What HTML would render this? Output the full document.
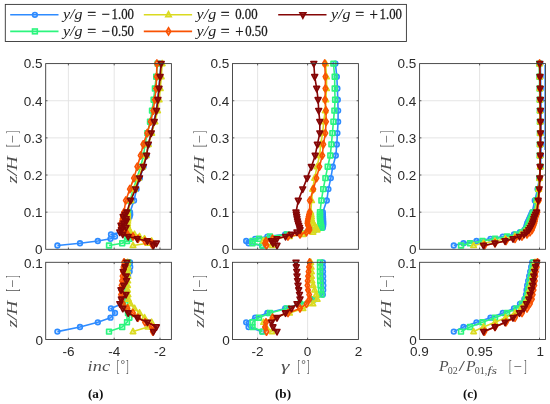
<!DOCTYPE html>
<html lang="en"><head><meta charset="utf-8"><title>Profiles</title>
<style>html,body{margin:0;padding:0;background:#fff;}svg{display:block;}.tk{font-family:"Liberation Sans",sans-serif;font-size:13.5px;fill:#2a2a2a;}.mi{font-family:"Liberation Serif",serif;font-style:italic;fill:#505050;}.mr{font-family:"Liberation Serif",serif;fill:#505050;}.lg{fill:#1a1a1a;stroke:#1a1a1a;stroke-width:0;}.mr.lg{stroke-width:0.3px;}.cap{font-family:"Liberation Serif","DejaVu Serif",serif;font-weight:bold;font-size:13.2px;fill:#111;}</style></head><body>
<svg width="550" height="404" viewBox="0 0 550 404">
<rect width="550" height="404" fill="#fff"/>
<defs>
<clipPath id="cta"><rect x="45.7" y="63.6" width="125.7" height="185.7"/></clipPath>
<clipPath id="cla"><rect x="45.7" y="262.3" width="125.7" height="77.2"/></clipPath>
<clipPath id="ctb"><rect x="232.5" y="63.6" width="125.9" height="185.7"/></clipPath>
<clipPath id="clb"><rect x="232.5" y="262.3" width="125.9" height="77.2"/></clipPath>
<clipPath id="ctc"><rect x="419.6" y="63.6" width="125.9" height="185.7"/></clipPath>
<clipPath id="clc"><rect x="419.6" y="262.3" width="125.9" height="77.2"/></clipPath>
</defs>
<path d="M68.4 63.6V249.3M68.4 262.3V339.5M114.2 63.6V249.3M114.2 262.3V339.5M160 63.6V249.3M160 262.3V339.5M45.7 212.16H171.4M45.7 175.02H171.4M45.7 137.88H171.4M45.7 100.74H171.4" stroke="#e2e2e2" stroke-width="0.9" fill="none"/>
<path d="M257.6 63.6V249.3M257.6 262.3V339.5M307.6 63.6V249.3M307.6 262.3V339.5M232.5 212.16H358.4M232.5 175.02H358.4M232.5 137.88H358.4M232.5 100.74H358.4" stroke="#e2e2e2" stroke-width="0.9" fill="none"/>
<path d="M479.6 63.6V249.3M479.6 262.3V339.5M539.5 63.6V249.3M539.5 262.3V339.5M419.6 212.16H545.5M419.6 175.02H545.5M419.6 137.88H545.5M419.6 100.74H545.5" stroke="#e2e2e2" stroke-width="0.9" fill="none"/>
<g fill="none" stroke-linejoin="round">
<g stroke="#2e8bff">
<path clip-path="url(#cta)" d="M161 63.6L159.9 76.7L158.8 88.5L157.7 99.7L156.3 110.6L154 121.7L151.2 133.1L148.3 144.4L146.6 155.5L143.5 166.7L139.9 178.1L136.6 189.1L134 200.5L130 212.21L130.2 214.42L129.6 216.63L128 218.85L126.6 221.06L125.8 223.27L125.4 225.49L124.8 227.7L124 229.91L122 232.13L111 234.34L115 236.55L110.5 238.81L97.8 241.03L80 243.29L57.4 245.5" stroke-width="1.6"/>
<g stroke-width="1.6" fill="#2e8bff" fill-opacity="0.18"><circle cx="161" cy="63.6" r="2.37"/><circle cx="159.9" cy="76.7" r="2.37"/><circle cx="158.8" cy="88.5" r="2.37"/><circle cx="157.7" cy="99.7" r="2.37"/><circle cx="156.3" cy="110.6" r="2.37"/><circle cx="154" cy="121.7" r="2.37"/><circle cx="151.2" cy="133.1" r="2.37"/><circle cx="148.3" cy="144.4" r="2.37"/><circle cx="146.6" cy="155.5" r="2.37"/><circle cx="143.5" cy="166.7" r="2.37"/><circle cx="139.9" cy="178.1" r="2.37"/><circle cx="136.6" cy="189.1" r="2.37"/><circle cx="134" cy="200.5" r="2.37"/><circle cx="130" cy="212.21" r="2.37"/><circle cx="130.2" cy="214.42" r="2.37"/><circle cx="129.6" cy="216.63" r="2.37"/><circle cx="128" cy="218.85" r="2.37"/><circle cx="126.6" cy="221.06" r="2.37"/><circle cx="125.8" cy="223.27" r="2.37"/><circle cx="125.4" cy="225.49" r="2.37"/><circle cx="124.8" cy="227.7" r="2.37"/><circle cx="124" cy="229.91" r="2.37"/><circle cx="122" cy="232.13" r="2.37"/><circle cx="111" cy="234.34" r="2.37"/><circle cx="115" cy="236.55" r="2.37"/><circle cx="110.5" cy="238.81" r="2.37"/><circle cx="97.8" cy="241.03" r="2.37"/><circle cx="80" cy="243.29" r="2.37"/><circle cx="57.4" cy="245.5" r="2.37"/></g>
</g>
<g stroke="#2cf57e">
<path clip-path="url(#cta)" d="M157.6 63.6L156.2 76.7L154.9 88.5L153.6 99.7L152 110.6L150 121.7L147.4 133.1L145 144.4L143.6 155.5L140.6 166.7L137 178.1L133.4 189.1L130 200.5L128 212.21L127.5 214.42L127 216.63L126.5 218.85L126 221.06L125.5 223.27L125 225.49L125 227.7L125 229.91L125.5 232.13L126.5 234.34L128 236.55L129.4 238.81L127 241.03L122.2 243.29L109 245.5" stroke-width="1.6"/>
<g stroke-width="1.6" fill="#2cf57e" fill-opacity="0.18"><rect x="155.2" y="61.2" width="4.8" height="4.8"/><rect x="153.8" y="74.3" width="4.8" height="4.8"/><rect x="152.5" y="86.1" width="4.8" height="4.8"/><rect x="151.2" y="97.3" width="4.8" height="4.8"/><rect x="149.6" y="108.2" width="4.8" height="4.8"/><rect x="147.6" y="119.3" width="4.8" height="4.8"/><rect x="145" y="130.7" width="4.8" height="4.8"/><rect x="142.6" y="142" width="4.8" height="4.8"/><rect x="141.2" y="153.1" width="4.8" height="4.8"/><rect x="138.2" y="164.3" width="4.8" height="4.8"/><rect x="134.6" y="175.7" width="4.8" height="4.8"/><rect x="131" y="186.7" width="4.8" height="4.8"/><rect x="127.6" y="198.1" width="4.8" height="4.8"/><rect x="125.6" y="209.81" width="4.8" height="4.8"/><rect x="125.1" y="212.02" width="4.8" height="4.8"/><rect x="124.6" y="214.23" width="4.8" height="4.8"/><rect x="124.1" y="216.45" width="4.8" height="4.8"/><rect x="123.6" y="218.66" width="4.8" height="4.8"/><rect x="123.1" y="220.87" width="4.8" height="4.8"/><rect x="122.6" y="223.09" width="4.8" height="4.8"/><rect x="122.6" y="225.3" width="4.8" height="4.8"/><rect x="122.6" y="227.51" width="4.8" height="4.8"/><rect x="123.1" y="229.73" width="4.8" height="4.8"/><rect x="124.1" y="231.94" width="4.8" height="4.8"/><rect x="125.6" y="234.15" width="4.8" height="4.8"/><rect x="127" y="236.41" width="4.8" height="4.8"/><rect x="124.6" y="238.63" width="4.8" height="4.8"/><rect x="119.8" y="240.89" width="4.8" height="4.8"/><rect x="106.6" y="243.1" width="4.8" height="4.8"/></g>
</g>
<g stroke="#dada20">
<path clip-path="url(#cta)" d="M162.2 63.6L161.3 76.7L160.3 88.5L159.2 99.7L157.6 110.6L155 121.7L151.8 133.1L148.4 144.4L146.2 155.5L142.6 166.7L138.6 178.1L134.6 189.1L131 200.5L127.6 212.21L127.8 214.42L127.8 216.63L128 218.85L127.8 221.06L127.6 223.27L127.6 225.49L128 227.7L128.4 229.91L130.5 232.13L134.5 234.34L139.5 236.55L144.5 238.81L151.6 241.03L148 243.29L133 245.5" stroke-width="1.6"/>
<g stroke-width="1.6" fill="#dada20" fill-opacity="0.45"><path d="M162.2 60.43L164.96 65.59L159.44 65.59Z"/><path d="M161.3 73.53L164.06 78.69L158.54 78.69Z"/><path d="M160.3 85.33L163.06 90.49L157.54 90.49Z"/><path d="M159.2 96.53L161.96 101.69L156.44 101.69Z"/><path d="M157.6 107.43L160.36 112.59L154.84 112.59Z"/><path d="M155 118.53L157.76 123.69L152.24 123.69Z"/><path d="M151.8 129.93L154.56 135.09L149.04 135.09Z"/><path d="M148.4 141.23L151.16 146.39L145.64 146.39Z"/><path d="M146.2 152.33L148.96 157.49L143.44 157.49Z"/><path d="M142.6 163.53L145.36 168.69L139.84 168.69Z"/><path d="M138.6 174.93L141.36 180.09L135.84 180.09Z"/><path d="M134.6 185.93L137.36 191.09L131.84 191.09Z"/><path d="M131 197.33L133.76 202.49L128.24 202.49Z"/><path d="M127.6 209.03L130.36 214.2L124.84 214.2Z"/><path d="M127.8 211.25L130.56 216.41L125.04 216.41Z"/><path d="M127.8 213.46L130.56 218.62L125.04 218.62Z"/><path d="M128 215.67L130.76 220.83L125.24 220.83Z"/><path d="M127.8 217.89L130.56 223.05L125.04 223.05Z"/><path d="M127.6 220.1L130.36 225.26L124.84 225.26Z"/><path d="M127.6 222.31L130.36 227.47L124.84 227.47Z"/><path d="M128 224.53L130.76 229.69L125.24 229.69Z"/><path d="M128.4 226.74L131.16 231.9L125.64 231.9Z"/><path d="M130.5 228.95L133.26 234.11L127.74 234.11Z"/><path d="M134.5 231.16L137.26 236.33L131.74 236.33Z"/><path d="M139.5 233.38L142.26 238.54L136.74 238.54Z"/><path d="M144.5 235.64L147.26 240.8L141.74 240.8Z"/><path d="M151.6 237.85L154.36 243.01L148.84 243.01Z"/><path d="M148 240.11L150.76 245.27L145.24 245.27Z"/><path d="M133 242.33L135.76 247.49L130.24 247.49Z"/></g>
</g>
<g stroke="#f95203">
<path clip-path="url(#cta)" d="M156.9 63.6L156.6 76.7L156 88.5L154.8 99.7L153.2 110.6L150.6 121.7L147.2 133.1L143.2 144.4L140.6 155.5L137.2 166.7L133.9 178.1L129.8 189.1L125.8 200.5L124 212.21L123.5 214.42L123 216.63L122.5 218.85L122 221.06L121.5 223.27L121 225.49L121 227.7L121.5 229.91L123 232.13L127.5 234.34L133 236.55L138 238.81L145 241.03L151.6 243.29L152.8 245.5" stroke-width="1.6"/>
<g stroke-width="1.6" fill="#f95203" fill-opacity="0.4"><path d="M156.9 59.94L159.12 63.6L156.9 67.26L154.68 63.6Z"/><path d="M156.6 73.04L158.82 76.7L156.6 80.36L154.38 76.7Z"/><path d="M156 84.84L158.22 88.5L156 92.16L153.78 88.5Z"/><path d="M154.8 96.04L157.02 99.7L154.8 103.36L152.58 99.7Z"/><path d="M153.2 106.94L155.42 110.6L153.2 114.26L150.98 110.6Z"/><path d="M150.6 118.04L152.82 121.7L150.6 125.36L148.38 121.7Z"/><path d="M147.2 129.44L149.42 133.1L147.2 136.76L144.98 133.1Z"/><path d="M143.2 140.74L145.42 144.4L143.2 148.06L140.98 144.4Z"/><path d="M140.6 151.84L142.82 155.5L140.6 159.16L138.38 155.5Z"/><path d="M137.2 163.04L139.42 166.7L137.2 170.36L134.98 166.7Z"/><path d="M133.9 174.44L136.12 178.1L133.9 181.76L131.68 178.1Z"/><path d="M129.8 185.44L132.02 189.1L129.8 192.76L127.58 189.1Z"/><path d="M125.8 196.84L128.02 200.5L125.8 204.16L123.58 200.5Z"/><path d="M124 208.55L126.22 212.21L124 215.87L121.78 212.21Z"/><path d="M123.5 210.76L125.72 214.42L123.5 218.08L121.28 214.42Z"/><path d="M123 212.97L125.22 216.63L123 220.29L120.78 216.63Z"/><path d="M122.5 215.19L124.72 218.85L122.5 222.51L120.28 218.85Z"/><path d="M122 217.4L124.22 221.06L122 224.72L119.78 221.06Z"/><path d="M121.5 219.61L123.72 223.27L121.5 226.93L119.28 223.27Z"/><path d="M121 221.83L123.22 225.49L121 229.15L118.78 225.49Z"/><path d="M121 224.04L123.22 227.7L121 231.36L118.78 227.7Z"/><path d="M121.5 226.25L123.72 229.91L121.5 233.57L119.28 229.91Z"/><path d="M123 228.47L125.22 232.13L123 235.79L120.78 232.13Z"/><path d="M127.5 230.68L129.72 234.34L127.5 238L125.28 234.34Z"/><path d="M133 232.89L135.22 236.55L133 240.21L130.78 236.55Z"/><path d="M138 235.15L140.22 238.81L138 242.47L135.78 238.81Z"/><path d="M145 237.37L147.22 241.03L145 244.69L142.78 241.03Z"/><path d="M151.6 239.63L153.82 243.29L151.6 246.95L149.38 243.29Z"/><path d="M152.8 241.84L155.02 245.5L152.8 249.16L150.58 245.5Z"/></g>
</g>
<g stroke="#850606">
<path clip-path="url(#cta)" d="M161.2 63.6L160.1 76.7L159 88.5L157.9 99.7L156.5 110.6L154.2 121.7L151.3 133.1L148.3 144.4L146.6 155.5L143.4 166.7L139.5 178.1L135.6 189.1L130.6 200.5L126.8 212.21L125 214.42L123.2 216.63L126.2 218.85L126.5 221.06L123.8 223.27L121 225.49L126 227.7L121.4 229.91L119.8 232.13L122.8 234.34L128.2 236.55L137.2 238.81L147.4 241.03L156.4 243.29L153.4 245.5" stroke-width="1.6"/>
<g stroke-width="1.6" fill="#850606" fill-opacity="0.7"><path d="M161.2 66.98L164.14 61.48L158.26 61.48Z"/><path d="M160.1 80.08L163.04 74.58L157.16 74.58Z"/><path d="M159 91.88L161.94 86.38L156.06 86.38Z"/><path d="M157.9 103.08L160.84 97.58L154.96 97.58Z"/><path d="M156.5 113.98L159.44 108.48L153.56 108.48Z"/><path d="M154.2 125.08L157.14 119.58L151.26 119.58Z"/><path d="M151.3 136.48L154.24 130.98L148.36 130.98Z"/><path d="M148.3 147.78L151.24 142.28L145.36 142.28Z"/><path d="M146.6 158.88L149.54 153.38L143.66 153.38Z"/><path d="M143.4 170.08L146.34 164.58L140.46 164.58Z"/><path d="M139.5 181.48L142.44 175.98L136.56 175.98Z"/><path d="M135.6 192.48L138.54 186.98L132.66 186.98Z"/><path d="M130.6 203.88L133.54 198.38L127.66 198.38Z"/><path d="M126.8 215.59L129.74 210.09L123.86 210.09Z"/><path d="M125 217.8L127.94 212.3L122.06 212.3Z"/><path d="M123.2 220.02L126.14 214.52L120.26 214.52Z"/><path d="M126.2 222.23L129.14 216.73L123.26 216.73Z"/><path d="M126.5 224.44L129.44 218.94L123.56 218.94Z"/><path d="M123.8 226.65L126.74 221.16L120.86 221.16Z"/><path d="M121 228.87L123.94 223.37L118.06 223.37Z"/><path d="M126 231.08L128.94 225.58L123.06 225.58Z"/><path d="M121.4 233.29L124.34 227.8L118.46 227.8Z"/><path d="M119.8 235.51L122.74 230.01L116.86 230.01Z"/><path d="M122.8 237.72L125.74 232.22L119.86 232.22Z"/><path d="M128.2 239.93L131.14 234.43L125.26 234.43Z"/><path d="M137.2 242.19L140.14 236.7L134.26 236.7Z"/><path d="M147.4 244.41L150.34 238.91L144.46 238.91Z"/><path d="M156.4 246.67L159.34 241.17L153.46 241.17Z"/><path d="M153.4 248.88L156.34 243.38L150.46 243.38Z"/></g>
</g>
</g>
<g fill="none" stroke-linejoin="round">
<g stroke="#2e8bff">
<path clip-path="url(#cla)" d="M134 238.06L130 262.4L130.2 267L129.6 271.6L128 276.2L126.6 280.8L125.8 285.4L125.4 290L124.8 294.6L124 299.2L122 303.8L111 308.4L115 313L110.5 317.7L97.8 322.3L80 327L57.4 331.6" stroke-width="1.6"/>
<g stroke-width="1.6" fill="#2e8bff" fill-opacity="0.18"><circle cx="130" cy="262.4" r="2.37"/><circle cx="130.2" cy="267" r="2.37"/><circle cx="129.6" cy="271.6" r="2.37"/><circle cx="128" cy="276.2" r="2.37"/><circle cx="126.6" cy="280.8" r="2.37"/><circle cx="125.8" cy="285.4" r="2.37"/><circle cx="125.4" cy="290" r="2.37"/><circle cx="124.8" cy="294.6" r="2.37"/><circle cx="124" cy="299.2" r="2.37"/><circle cx="122" cy="303.8" r="2.37"/><circle cx="111" cy="308.4" r="2.37"/><circle cx="115" cy="313" r="2.37"/><circle cx="110.5" cy="317.7" r="2.37"/><circle cx="97.8" cy="322.3" r="2.37"/><circle cx="80" cy="327" r="2.37"/><circle cx="57.4" cy="331.6" r="2.37"/></g>
</g>
<g stroke="#2cf57e">
<path clip-path="url(#cla)" d="M130 238.06L128 262.4L127.5 267L127 271.6L126.5 276.2L126 280.8L125.5 285.4L125 290L125 294.6L125 299.2L125.5 303.8L126.5 308.4L128 313L129.4 317.7L127 322.3L122.2 327L109 331.6" stroke-width="1.6"/>
<g stroke-width="1.6" fill="#2cf57e" fill-opacity="0.18"><rect x="125.6" y="260" width="4.8" height="4.8"/><rect x="125.1" y="264.6" width="4.8" height="4.8"/><rect x="124.6" y="269.2" width="4.8" height="4.8"/><rect x="124.1" y="273.8" width="4.8" height="4.8"/><rect x="123.6" y="278.4" width="4.8" height="4.8"/><rect x="123.1" y="283" width="4.8" height="4.8"/><rect x="122.6" y="287.6" width="4.8" height="4.8"/><rect x="122.6" y="292.2" width="4.8" height="4.8"/><rect x="122.6" y="296.8" width="4.8" height="4.8"/><rect x="123.1" y="301.4" width="4.8" height="4.8"/><rect x="124.1" y="306" width="4.8" height="4.8"/><rect x="125.6" y="310.6" width="4.8" height="4.8"/><rect x="127" y="315.3" width="4.8" height="4.8"/><rect x="124.6" y="319.9" width="4.8" height="4.8"/><rect x="119.8" y="324.6" width="4.8" height="4.8"/><rect x="106.6" y="329.2" width="4.8" height="4.8"/></g>
</g>
<g stroke="#dada20">
<path clip-path="url(#cla)" d="M131 238.06L127.6 262.4L127.8 267L127.8 271.6L128 276.2L127.8 280.8L127.6 285.4L127.6 290L128 294.6L128.4 299.2L130.5 303.8L134.5 308.4L139.5 313L144.5 317.7L151.6 322.3L148 327L133 331.6" stroke-width="1.6"/>
<g stroke-width="1.6" fill="#dada20" fill-opacity="0.45"><path d="M127.6 259.23L130.36 264.39L124.84 264.39Z"/><path d="M127.8 263.83L130.56 268.99L125.04 268.99Z"/><path d="M127.8 268.43L130.56 273.59L125.04 273.59Z"/><path d="M128 273.03L130.76 278.19L125.24 278.19Z"/><path d="M127.8 277.63L130.56 282.79L125.04 282.79Z"/><path d="M127.6 282.23L130.36 287.39L124.84 287.39Z"/><path d="M127.6 286.83L130.36 291.99L124.84 291.99Z"/><path d="M128 291.43L130.76 296.59L125.24 296.59Z"/><path d="M128.4 296.03L131.16 301.19L125.64 301.19Z"/><path d="M130.5 300.63L133.26 305.79L127.74 305.79Z"/><path d="M134.5 305.23L137.26 310.39L131.74 310.39Z"/><path d="M139.5 309.83L142.26 314.99L136.74 314.99Z"/><path d="M144.5 314.53L147.26 319.69L141.74 319.69Z"/><path d="M151.6 319.13L154.36 324.29L148.84 324.29Z"/><path d="M148 323.83L150.76 328.99L145.24 328.99Z"/><path d="M133 328.43L135.76 333.59L130.24 333.59Z"/></g>
</g>
<g stroke="#f95203">
<path clip-path="url(#cla)" d="M125.8 238.06L124 262.4L123.5 267L123 271.6L122.5 276.2L122 280.8L121.5 285.4L121 290L121 294.6L121.5 299.2L123 303.8L127.5 308.4L133 313L138 317.7L145 322.3L151.6 327L152.8 331.6" stroke-width="1.6"/>
<g stroke-width="1.6" fill="#f95203" fill-opacity="0.4"><path d="M124 258.74L126.22 262.4L124 266.06L121.78 262.4Z"/><path d="M123.5 263.34L125.72 267L123.5 270.66L121.28 267Z"/><path d="M123 267.94L125.22 271.6L123 275.26L120.78 271.6Z"/><path d="M122.5 272.54L124.72 276.2L122.5 279.86L120.28 276.2Z"/><path d="M122 277.14L124.22 280.8L122 284.46L119.78 280.8Z"/><path d="M121.5 281.74L123.72 285.4L121.5 289.06L119.28 285.4Z"/><path d="M121 286.34L123.22 290L121 293.66L118.78 290Z"/><path d="M121 290.94L123.22 294.6L121 298.26L118.78 294.6Z"/><path d="M121.5 295.54L123.72 299.2L121.5 302.86L119.28 299.2Z"/><path d="M123 300.14L125.22 303.8L123 307.46L120.78 303.8Z"/><path d="M127.5 304.74L129.72 308.4L127.5 312.06L125.28 308.4Z"/><path d="M133 309.34L135.22 313L133 316.66L130.78 313Z"/><path d="M138 314.04L140.22 317.7L138 321.36L135.78 317.7Z"/><path d="M145 318.64L147.22 322.3L145 325.96L142.78 322.3Z"/><path d="M151.6 323.34L153.82 327L151.6 330.66L149.38 327Z"/><path d="M152.8 327.94L155.02 331.6L152.8 335.26L150.58 331.6Z"/></g>
</g>
<g stroke="#850606">
<path clip-path="url(#cla)" d="M130.6 238.06L126.8 262.4L125 267L123.2 271.6L126.2 276.2L126.5 280.8L123.8 285.4L121 290L126 294.6L121.4 299.2L119.8 303.8L122.8 308.4L128.2 313L137.2 317.7L147.4 322.3L156.4 327L153.4 331.6" stroke-width="1.6"/>
<g stroke-width="1.6" fill="#850606" fill-opacity="0.7"><path d="M126.8 265.78L129.74 260.28L123.86 260.28Z"/><path d="M125 270.38L127.94 264.88L122.06 264.88Z"/><path d="M123.2 274.98L126.14 269.48L120.26 269.48Z"/><path d="M126.2 279.58L129.14 274.08L123.26 274.08Z"/><path d="M126.5 284.18L129.44 278.68L123.56 278.68Z"/><path d="M123.8 288.78L126.74 283.28L120.86 283.28Z"/><path d="M121 293.38L123.94 287.88L118.06 287.88Z"/><path d="M126 297.98L128.94 292.48L123.06 292.48Z"/><path d="M121.4 302.58L124.34 297.08L118.46 297.08Z"/><path d="M119.8 307.18L122.74 301.68L116.86 301.68Z"/><path d="M122.8 311.78L125.74 306.28L119.86 306.28Z"/><path d="M128.2 316.38L131.14 310.88L125.26 310.88Z"/><path d="M137.2 321.08L140.14 315.58L134.26 315.58Z"/><path d="M147.4 325.68L150.34 320.18L144.46 320.18Z"/><path d="M156.4 330.38L159.34 324.88L153.46 324.88Z"/><path d="M153.4 334.98L156.34 329.48L150.46 329.48Z"/></g>
</g>
</g>
<g fill="none" stroke-linejoin="round">
<g stroke="#2e8bff">
<path clip-path="url(#ctb)" d="M335.4 63.6L336.8 76.7L337.4 88.5L337.8 99.7L338.1 110.6L338.1 121.7L337.4 133.1L336.8 144.4L335.8 155.5L332.8 166.7L330.8 178.1L328.4 189.1L326.8 200.5L322.8 212.21L322.9 214.42L323 216.63L323.1 218.85L323.2 221.06L323.3 223.27L323.2 225.49L322.8 227.7L314.5 229.91L300.5 232.13L285.2 234.34L267.4 236.55L255.2 238.81L246.2 241.03L248.6 243.29L262 245.5" stroke-width="1.6"/>
<g stroke-width="1.6" fill="#2e8bff" fill-opacity="0.18"><circle cx="335.4" cy="63.6" r="2.37"/><circle cx="336.8" cy="76.7" r="2.37"/><circle cx="337.4" cy="88.5" r="2.37"/><circle cx="337.8" cy="99.7" r="2.37"/><circle cx="338.1" cy="110.6" r="2.37"/><circle cx="338.1" cy="121.7" r="2.37"/><circle cx="337.4" cy="133.1" r="2.37"/><circle cx="336.8" cy="144.4" r="2.37"/><circle cx="335.8" cy="155.5" r="2.37"/><circle cx="332.8" cy="166.7" r="2.37"/><circle cx="330.8" cy="178.1" r="2.37"/><circle cx="328.4" cy="189.1" r="2.37"/><circle cx="326.8" cy="200.5" r="2.37"/><circle cx="322.8" cy="212.21" r="2.37"/><circle cx="322.9" cy="214.42" r="2.37"/><circle cx="323" cy="216.63" r="2.37"/><circle cx="323.1" cy="218.85" r="2.37"/><circle cx="323.2" cy="221.06" r="2.37"/><circle cx="323.3" cy="223.27" r="2.37"/><circle cx="323.2" cy="225.49" r="2.37"/><circle cx="322.8" cy="227.7" r="2.37"/><circle cx="314.5" cy="229.91" r="2.37"/><circle cx="300.5" cy="232.13" r="2.37"/><circle cx="285.2" cy="234.34" r="2.37"/><circle cx="267.4" cy="236.55" r="2.37"/><circle cx="255.2" cy="238.81" r="2.37"/><circle cx="246.2" cy="241.03" r="2.37"/><circle cx="248.6" cy="243.29" r="2.37"/><circle cx="262" cy="245.5" r="2.37"/></g>
</g>
<g stroke="#2cf57e">
<path clip-path="url(#ctb)" d="M333.4 63.6L334.7 76.7L334.7 88.5L335.1 99.7L334.4 110.6L333.4 121.7L332.4 133.1L331.4 144.4L330.3 155.5L327.7 166.7L325.4 178.1L323.2 189.1L321.4 200.5L320 212.21L320 214.42L320 216.63L320 218.85L320.2 221.06L320.5 223.27L321 225.49L321.5 227.7L313.5 229.91L300 232.13L287 234.34L270 236.55L259 238.81L252.5 241.03L252.5 243.29L262.5 245.5" stroke-width="1.6"/>
<g stroke-width="1.6" fill="#2cf57e" fill-opacity="0.18"><rect x="331" y="61.2" width="4.8" height="4.8"/><rect x="332.3" y="74.3" width="4.8" height="4.8"/><rect x="332.3" y="86.1" width="4.8" height="4.8"/><rect x="332.7" y="97.3" width="4.8" height="4.8"/><rect x="332" y="108.2" width="4.8" height="4.8"/><rect x="331" y="119.3" width="4.8" height="4.8"/><rect x="330" y="130.7" width="4.8" height="4.8"/><rect x="329" y="142" width="4.8" height="4.8"/><rect x="327.9" y="153.1" width="4.8" height="4.8"/><rect x="325.3" y="164.3" width="4.8" height="4.8"/><rect x="323" y="175.7" width="4.8" height="4.8"/><rect x="320.8" y="186.7" width="4.8" height="4.8"/><rect x="319" y="198.1" width="4.8" height="4.8"/><rect x="317.6" y="209.81" width="4.8" height="4.8"/><rect x="317.6" y="212.02" width="4.8" height="4.8"/><rect x="317.6" y="214.23" width="4.8" height="4.8"/><rect x="317.6" y="216.45" width="4.8" height="4.8"/><rect x="317.8" y="218.66" width="4.8" height="4.8"/><rect x="318.1" y="220.87" width="4.8" height="4.8"/><rect x="318.6" y="223.09" width="4.8" height="4.8"/><rect x="319.1" y="225.3" width="4.8" height="4.8"/><rect x="311.1" y="227.51" width="4.8" height="4.8"/><rect x="297.6" y="229.73" width="4.8" height="4.8"/><rect x="284.6" y="231.94" width="4.8" height="4.8"/><rect x="267.6" y="234.15" width="4.8" height="4.8"/><rect x="256.6" y="236.41" width="4.8" height="4.8"/><rect x="250.1" y="238.63" width="4.8" height="4.8"/><rect x="250.1" y="240.89" width="4.8" height="4.8"/><rect x="260.1" y="243.1" width="4.8" height="4.8"/></g>
</g>
<g stroke="#dada20">
<path clip-path="url(#ctb)" d="M325.6 63.6L326.5 76.7L326.5 88.5L325.8 99.7L325.2 110.6L323.8 121.7L322.6 133.1L320.8 144.4L319.6 155.5L317 166.7L314.6 178.1L312.6 189.1L311.6 200.5L310.8 212.21L311.2 214.42L311.5 216.63L311.5 218.85L312 221.06L313.2 223.27L314.6 225.49L316.2 227.7L317.2 229.91L313 232.13L303 234.34L289.5 236.55L273 238.81L263.5 241.03L266 243.29L272 245.5" stroke-width="1.6"/>
<g stroke-width="1.6" fill="#dada20" fill-opacity="0.45"><path d="M325.6 60.43L328.36 65.59L322.84 65.59Z"/><path d="M326.5 73.53L329.26 78.69L323.74 78.69Z"/><path d="M326.5 85.33L329.26 90.49L323.74 90.49Z"/><path d="M325.8 96.53L328.56 101.69L323.04 101.69Z"/><path d="M325.2 107.43L327.96 112.59L322.44 112.59Z"/><path d="M323.8 118.53L326.56 123.69L321.04 123.69Z"/><path d="M322.6 129.93L325.36 135.09L319.84 135.09Z"/><path d="M320.8 141.23L323.56 146.39L318.04 146.39Z"/><path d="M319.6 152.33L322.36 157.49L316.84 157.49Z"/><path d="M317 163.53L319.76 168.69L314.24 168.69Z"/><path d="M314.6 174.93L317.36 180.09L311.84 180.09Z"/><path d="M312.6 185.93L315.36 191.09L309.84 191.09Z"/><path d="M311.6 197.33L314.36 202.49L308.84 202.49Z"/><path d="M310.8 209.03L313.56 214.2L308.04 214.2Z"/><path d="M311.2 211.25L313.96 216.41L308.44 216.41Z"/><path d="M311.5 213.46L314.26 218.62L308.74 218.62Z"/><path d="M311.5 215.67L314.26 220.83L308.74 220.83Z"/><path d="M312 217.89L314.76 223.05L309.24 223.05Z"/><path d="M313.2 220.1L315.96 225.26L310.44 225.26Z"/><path d="M314.6 222.31L317.36 227.47L311.84 227.47Z"/><path d="M316.2 224.53L318.96 229.69L313.44 229.69Z"/><path d="M317.2 226.74L319.96 231.9L314.44 231.9Z"/><path d="M313 228.95L315.76 234.11L310.24 234.11Z"/><path d="M303 231.16L305.76 236.33L300.24 236.33Z"/><path d="M289.5 233.38L292.26 238.54L286.74 238.54Z"/><path d="M273 235.64L275.76 240.8L270.24 240.8Z"/><path d="M263.5 237.85L266.26 243.01L260.74 243.01Z"/><path d="M266 240.11L268.76 245.27L263.24 245.27Z"/><path d="M272 242.33L274.76 247.49L269.24 247.49Z"/></g>
</g>
<g stroke="#f95203">
<path clip-path="url(#ctb)" d="M324.7 63.6L325.4 76.7L325.4 88.5L325 99.7L326 110.6L326.1 121.7L325.4 133.1L323.4 144.4L322.3 155.5L319.4 166.7L316.5 178.1L313.4 189.1L309.8 200.5L309.6 212.21L309 214.42L308.5 216.63L308 218.85L307.6 221.06L307.4 223.27L308 225.49L309.2 227.7L309.5 229.91L306.5 232.13L300 234.34L288 236.55L272.5 238.81L266 241.03L265 243.29L266.5 245.5" stroke-width="1.6"/>
<g stroke-width="1.6" fill="#f95203" fill-opacity="0.4"><path d="M324.7 59.94L326.92 63.6L324.7 67.26L322.48 63.6Z"/><path d="M325.4 73.04L327.62 76.7L325.4 80.36L323.18 76.7Z"/><path d="M325.4 84.84L327.62 88.5L325.4 92.16L323.18 88.5Z"/><path d="M325 96.04L327.22 99.7L325 103.36L322.78 99.7Z"/><path d="M326 106.94L328.22 110.6L326 114.26L323.78 110.6Z"/><path d="M326.1 118.04L328.32 121.7L326.1 125.36L323.88 121.7Z"/><path d="M325.4 129.44L327.62 133.1L325.4 136.76L323.18 133.1Z"/><path d="M323.4 140.74L325.62 144.4L323.4 148.06L321.18 144.4Z"/><path d="M322.3 151.84L324.52 155.5L322.3 159.16L320.08 155.5Z"/><path d="M319.4 163.04L321.62 166.7L319.4 170.36L317.18 166.7Z"/><path d="M316.5 174.44L318.72 178.1L316.5 181.76L314.28 178.1Z"/><path d="M313.4 185.44L315.62 189.1L313.4 192.76L311.18 189.1Z"/><path d="M309.8 196.84L312.02 200.5L309.8 204.16L307.58 200.5Z"/><path d="M309.6 208.55L311.82 212.21L309.6 215.87L307.38 212.21Z"/><path d="M309 210.76L311.22 214.42L309 218.08L306.78 214.42Z"/><path d="M308.5 212.97L310.72 216.63L308.5 220.29L306.28 216.63Z"/><path d="M308 215.19L310.22 218.85L308 222.51L305.78 218.85Z"/><path d="M307.6 217.4L309.82 221.06L307.6 224.72L305.38 221.06Z"/><path d="M307.4 219.61L309.62 223.27L307.4 226.93L305.18 223.27Z"/><path d="M308 221.83L310.22 225.49L308 229.15L305.78 225.49Z"/><path d="M309.2 224.04L311.42 227.7L309.2 231.36L306.98 227.7Z"/><path d="M309.5 226.25L311.72 229.91L309.5 233.57L307.28 229.91Z"/><path d="M306.5 228.47L308.72 232.13L306.5 235.79L304.28 232.13Z"/><path d="M300 230.68L302.22 234.34L300 238L297.78 234.34Z"/><path d="M288 232.89L290.22 236.55L288 240.21L285.78 236.55Z"/><path d="M272.5 235.15L274.72 238.81L272.5 242.47L270.28 238.81Z"/><path d="M266 237.37L268.22 241.03L266 244.69L263.78 241.03Z"/><path d="M265 239.63L267.22 243.29L265 246.95L262.78 243.29Z"/><path d="M266.5 241.84L268.72 245.5L266.5 249.16L264.28 245.5Z"/></g>
</g>
<g stroke="#850606">
<path clip-path="url(#ctb)" d="M313.8 63.6L314.7 76.7L316.7 88.5L318.1 99.7L318.7 110.6L319.8 121.7L319.8 133.1L317.4 144.4L315.2 155.5L311.4 166.7L307.1 178.1L302.7 189.1L298.3 200.5L296 212.21L296.3 214.42L296.7 216.63L297 218.85L297.5 221.06L298 223.27L298.7 225.49L299.5 227.7L300 229.91L297 232.13L291.5 234.34L285.5 236.55L277 238.81L271.5 241.03L273 243.29L277 245.5" stroke-width="1.6"/>
<g stroke-width="1.6" fill="#850606" fill-opacity="0.7"><path d="M313.8 66.98L316.74 61.48L310.86 61.48Z"/><path d="M314.7 80.08L317.64 74.58L311.76 74.58Z"/><path d="M316.7 91.88L319.64 86.38L313.76 86.38Z"/><path d="M318.1 103.08L321.04 97.58L315.16 97.58Z"/><path d="M318.7 113.98L321.64 108.48L315.76 108.48Z"/><path d="M319.8 125.08L322.74 119.58L316.86 119.58Z"/><path d="M319.8 136.48L322.74 130.98L316.86 130.98Z"/><path d="M317.4 147.78L320.34 142.28L314.46 142.28Z"/><path d="M315.2 158.88L318.14 153.38L312.26 153.38Z"/><path d="M311.4 170.08L314.34 164.58L308.46 164.58Z"/><path d="M307.1 181.48L310.04 175.98L304.16 175.98Z"/><path d="M302.7 192.48L305.64 186.98L299.76 186.98Z"/><path d="M298.3 203.88L301.24 198.38L295.36 198.38Z"/><path d="M296 215.59L298.94 210.09L293.06 210.09Z"/><path d="M296.3 217.8L299.24 212.3L293.36 212.3Z"/><path d="M296.7 220.02L299.64 214.52L293.76 214.52Z"/><path d="M297 222.23L299.94 216.73L294.06 216.73Z"/><path d="M297.5 224.44L300.44 218.94L294.56 218.94Z"/><path d="M298 226.65L300.94 221.16L295.06 221.16Z"/><path d="M298.7 228.87L301.64 223.37L295.76 223.37Z"/><path d="M299.5 231.08L302.44 225.58L296.56 225.58Z"/><path d="M300 233.29L302.94 227.8L297.06 227.8Z"/><path d="M297 235.51L299.94 230.01L294.06 230.01Z"/><path d="M291.5 237.72L294.44 232.22L288.56 232.22Z"/><path d="M285.5 239.93L288.44 234.43L282.56 234.43Z"/><path d="M277 242.19L279.94 236.7L274.06 236.7Z"/><path d="M271.5 244.41L274.44 238.91L268.56 238.91Z"/><path d="M273 246.67L275.94 241.17L270.06 241.17Z"/><path d="M277 248.88L279.94 243.38L274.06 243.38Z"/></g>
</g>
</g>
<g fill="none" stroke-linejoin="round">
<g stroke="#2e8bff">
<path clip-path="url(#clb)" d="M326.8 238.06L322.8 262.4L322.9 267L323 271.6L323.1 276.2L323.2 280.8L323.3 285.4L323.2 290L322.8 294.6L314.5 299.2L300.5 303.8L285.2 308.4L267.4 313L255.2 317.7L246.2 322.3L248.6 327L262 331.6" stroke-width="1.6"/>
<g stroke-width="1.6" fill="#2e8bff" fill-opacity="0.18"><circle cx="322.8" cy="262.4" r="2.37"/><circle cx="322.9" cy="267" r="2.37"/><circle cx="323" cy="271.6" r="2.37"/><circle cx="323.1" cy="276.2" r="2.37"/><circle cx="323.2" cy="280.8" r="2.37"/><circle cx="323.3" cy="285.4" r="2.37"/><circle cx="323.2" cy="290" r="2.37"/><circle cx="322.8" cy="294.6" r="2.37"/><circle cx="314.5" cy="299.2" r="2.37"/><circle cx="300.5" cy="303.8" r="2.37"/><circle cx="285.2" cy="308.4" r="2.37"/><circle cx="267.4" cy="313" r="2.37"/><circle cx="255.2" cy="317.7" r="2.37"/><circle cx="246.2" cy="322.3" r="2.37"/><circle cx="248.6" cy="327" r="2.37"/><circle cx="262" cy="331.6" r="2.37"/></g>
</g>
<g stroke="#2cf57e">
<path clip-path="url(#clb)" d="M321.4 238.06L320 262.4L320 267L320 271.6L320 276.2L320.2 280.8L320.5 285.4L321 290L321.5 294.6L313.5 299.2L300 303.8L287 308.4L270 313L259 317.7L252.5 322.3L252.5 327L262.5 331.6" stroke-width="1.6"/>
<g stroke-width="1.6" fill="#2cf57e" fill-opacity="0.18"><rect x="317.6" y="260" width="4.8" height="4.8"/><rect x="317.6" y="264.6" width="4.8" height="4.8"/><rect x="317.6" y="269.2" width="4.8" height="4.8"/><rect x="317.6" y="273.8" width="4.8" height="4.8"/><rect x="317.8" y="278.4" width="4.8" height="4.8"/><rect x="318.1" y="283" width="4.8" height="4.8"/><rect x="318.6" y="287.6" width="4.8" height="4.8"/><rect x="319.1" y="292.2" width="4.8" height="4.8"/><rect x="311.1" y="296.8" width="4.8" height="4.8"/><rect x="297.6" y="301.4" width="4.8" height="4.8"/><rect x="284.6" y="306" width="4.8" height="4.8"/><rect x="267.6" y="310.6" width="4.8" height="4.8"/><rect x="256.6" y="315.3" width="4.8" height="4.8"/><rect x="250.1" y="319.9" width="4.8" height="4.8"/><rect x="250.1" y="324.6" width="4.8" height="4.8"/><rect x="260.1" y="329.2" width="4.8" height="4.8"/></g>
</g>
<g stroke="#dada20">
<path clip-path="url(#clb)" d="M311.6 238.06L310.8 262.4L311.2 267L311.5 271.6L311.5 276.2L312 280.8L313.2 285.4L314.6 290L316.2 294.6L317.2 299.2L313 303.8L303 308.4L289.5 313L273 317.7L263.5 322.3L266 327L272 331.6" stroke-width="1.6"/>
<g stroke-width="1.6" fill="#dada20" fill-opacity="0.45"><path d="M310.8 259.23L313.56 264.39L308.04 264.39Z"/><path d="M311.2 263.83L313.96 268.99L308.44 268.99Z"/><path d="M311.5 268.43L314.26 273.59L308.74 273.59Z"/><path d="M311.5 273.03L314.26 278.19L308.74 278.19Z"/><path d="M312 277.63L314.76 282.79L309.24 282.79Z"/><path d="M313.2 282.23L315.96 287.39L310.44 287.39Z"/><path d="M314.6 286.83L317.36 291.99L311.84 291.99Z"/><path d="M316.2 291.43L318.96 296.59L313.44 296.59Z"/><path d="M317.2 296.03L319.96 301.19L314.44 301.19Z"/><path d="M313 300.63L315.76 305.79L310.24 305.79Z"/><path d="M303 305.23L305.76 310.39L300.24 310.39Z"/><path d="M289.5 309.83L292.26 314.99L286.74 314.99Z"/><path d="M273 314.53L275.76 319.69L270.24 319.69Z"/><path d="M263.5 319.13L266.26 324.29L260.74 324.29Z"/><path d="M266 323.83L268.76 328.99L263.24 328.99Z"/><path d="M272 328.43L274.76 333.59L269.24 333.59Z"/></g>
</g>
<g stroke="#f95203">
<path clip-path="url(#clb)" d="M309.8 238.06L309.6 262.4L309 267L308.5 271.6L308 276.2L307.6 280.8L307.4 285.4L308 290L309.2 294.6L309.5 299.2L306.5 303.8L300 308.4L288 313L272.5 317.7L266 322.3L265 327L266.5 331.6" stroke-width="1.6"/>
<g stroke-width="1.6" fill="#f95203" fill-opacity="0.4"><path d="M309.6 258.74L311.82 262.4L309.6 266.06L307.38 262.4Z"/><path d="M309 263.34L311.22 267L309 270.66L306.78 267Z"/><path d="M308.5 267.94L310.72 271.6L308.5 275.26L306.28 271.6Z"/><path d="M308 272.54L310.22 276.2L308 279.86L305.78 276.2Z"/><path d="M307.6 277.14L309.82 280.8L307.6 284.46L305.38 280.8Z"/><path d="M307.4 281.74L309.62 285.4L307.4 289.06L305.18 285.4Z"/><path d="M308 286.34L310.22 290L308 293.66L305.78 290Z"/><path d="M309.2 290.94L311.42 294.6L309.2 298.26L306.98 294.6Z"/><path d="M309.5 295.54L311.72 299.2L309.5 302.86L307.28 299.2Z"/><path d="M306.5 300.14L308.72 303.8L306.5 307.46L304.28 303.8Z"/><path d="M300 304.74L302.22 308.4L300 312.06L297.78 308.4Z"/><path d="M288 309.34L290.22 313L288 316.66L285.78 313Z"/><path d="M272.5 314.04L274.72 317.7L272.5 321.36L270.28 317.7Z"/><path d="M266 318.64L268.22 322.3L266 325.96L263.78 322.3Z"/><path d="M265 323.34L267.22 327L265 330.66L262.78 327Z"/><path d="M266.5 327.94L268.72 331.6L266.5 335.26L264.28 331.6Z"/></g>
</g>
<g stroke="#850606">
<path clip-path="url(#clb)" d="M298.3 238.06L296 262.4L296.3 267L296.7 271.6L297 276.2L297.5 280.8L298 285.4L298.7 290L299.5 294.6L300 299.2L297 303.8L291.5 308.4L285.5 313L277 317.7L271.5 322.3L273 327L277 331.6" stroke-width="1.6"/>
<g stroke-width="1.6" fill="#850606" fill-opacity="0.7"><path d="M296 265.78L298.94 260.28L293.06 260.28Z"/><path d="M296.3 270.38L299.24 264.88L293.36 264.88Z"/><path d="M296.7 274.98L299.64 269.48L293.76 269.48Z"/><path d="M297 279.58L299.94 274.08L294.06 274.08Z"/><path d="M297.5 284.18L300.44 278.68L294.56 278.68Z"/><path d="M298 288.78L300.94 283.28L295.06 283.28Z"/><path d="M298.7 293.38L301.64 287.88L295.76 287.88Z"/><path d="M299.5 297.98L302.44 292.48L296.56 292.48Z"/><path d="M300 302.58L302.94 297.08L297.06 297.08Z"/><path d="M297 307.18L299.94 301.68L294.06 301.68Z"/><path d="M291.5 311.78L294.44 306.28L288.56 306.28Z"/><path d="M285.5 316.38L288.44 310.88L282.56 310.88Z"/><path d="M277 321.08L279.94 315.58L274.06 315.58Z"/><path d="M271.5 325.68L274.44 320.18L268.56 320.18Z"/><path d="M273 330.38L275.94 324.88L270.06 324.88Z"/><path d="M277 334.98L279.94 329.48L274.06 329.48Z"/></g>
</g>
</g>
<g fill="none" stroke-linejoin="round">
<g stroke="#2e8bff">
<path clip-path="url(#ctc)" d="M540.4 63.6L540.6 76.7L540.8 88.5L540.9 99.7L541 110.6L541.1 121.7L541.1 133.1L541 144.4L540.9 155.5L540.6 166.7L539.4 178.1L537.6 189.1L534.8 200.5L532.2 212.21L531.2 214.42L530.2 216.63L529.2 218.85L528.2 221.06L527.2 223.27L526.6 225.49L526 227.7L524.4 229.91L520 232.13L514 234.34L502.8 236.55L490.5 238.81L476.5 241.03L463.5 243.29L453.8 245.5" stroke-width="1.6"/>
<g stroke-width="1.6" fill="#2e8bff" fill-opacity="0.18"><circle cx="540.4" cy="63.6" r="2.37"/><circle cx="540.6" cy="76.7" r="2.37"/><circle cx="540.8" cy="88.5" r="2.37"/><circle cx="540.9" cy="99.7" r="2.37"/><circle cx="541" cy="110.6" r="2.37"/><circle cx="541.1" cy="121.7" r="2.37"/><circle cx="541.1" cy="133.1" r="2.37"/><circle cx="541" cy="144.4" r="2.37"/><circle cx="540.9" cy="155.5" r="2.37"/><circle cx="540.6" cy="166.7" r="2.37"/><circle cx="539.4" cy="178.1" r="2.37"/><circle cx="537.6" cy="189.1" r="2.37"/><circle cx="534.8" cy="200.5" r="2.37"/><circle cx="532.2" cy="212.21" r="2.37"/><circle cx="531.2" cy="214.42" r="2.37"/><circle cx="530.2" cy="216.63" r="2.37"/><circle cx="529.2" cy="218.85" r="2.37"/><circle cx="528.2" cy="221.06" r="2.37"/><circle cx="527.2" cy="223.27" r="2.37"/><circle cx="526.6" cy="225.49" r="2.37"/><circle cx="526" cy="227.7" r="2.37"/><circle cx="524.4" cy="229.91" r="2.37"/><circle cx="520" cy="232.13" r="2.37"/><circle cx="514" cy="234.34" r="2.37"/><circle cx="502.8" cy="236.55" r="2.37"/><circle cx="490.5" cy="238.81" r="2.37"/><circle cx="476.5" cy="241.03" r="2.37"/><circle cx="463.5" cy="243.29" r="2.37"/><circle cx="453.8" cy="245.5" r="2.37"/></g>
</g>
<g stroke="#2cf57e">
<path clip-path="url(#ctc)" d="M539.2 63.6L539.4 76.7L539.6 88.5L539.7 99.7L539.8 110.6L539.9 121.7L539.9 133.1L539.8 144.4L539.7 155.5L540.2 166.7L539.4 178.1L538.2 189.1L536.2 200.5L533.6 212.21L532.7 214.42L531.8 216.63L530.9 218.85L530 221.06L529.1 223.27L528.2 225.49L527.3 227.7L525.6 229.91L522 232.13L516.5 234.34L507 236.55L495 238.81L482.5 241.03L470 243.29L461 245.5" stroke-width="1.6"/>
<g stroke-width="1.6" fill="#2cf57e" fill-opacity="0.18"><rect x="536.8" y="61.2" width="4.8" height="4.8"/><rect x="537" y="74.3" width="4.8" height="4.8"/><rect x="537.2" y="86.1" width="4.8" height="4.8"/><rect x="537.3" y="97.3" width="4.8" height="4.8"/><rect x="537.4" y="108.2" width="4.8" height="4.8"/><rect x="537.5" y="119.3" width="4.8" height="4.8"/><rect x="537.5" y="130.7" width="4.8" height="4.8"/><rect x="537.4" y="142" width="4.8" height="4.8"/><rect x="537.3" y="153.1" width="4.8" height="4.8"/><rect x="537.8" y="164.3" width="4.8" height="4.8"/><rect x="537" y="175.7" width="4.8" height="4.8"/><rect x="535.8" y="186.7" width="4.8" height="4.8"/><rect x="533.8" y="198.1" width="4.8" height="4.8"/><rect x="531.2" y="209.81" width="4.8" height="4.8"/><rect x="530.3" y="212.02" width="4.8" height="4.8"/><rect x="529.4" y="214.23" width="4.8" height="4.8"/><rect x="528.5" y="216.45" width="4.8" height="4.8"/><rect x="527.6" y="218.66" width="4.8" height="4.8"/><rect x="526.7" y="220.87" width="4.8" height="4.8"/><rect x="525.8" y="223.09" width="4.8" height="4.8"/><rect x="524.9" y="225.3" width="4.8" height="4.8"/><rect x="523.2" y="227.51" width="4.8" height="4.8"/><rect x="519.6" y="229.73" width="4.8" height="4.8"/><rect x="514.1" y="231.94" width="4.8" height="4.8"/><rect x="504.6" y="234.15" width="4.8" height="4.8"/><rect x="492.6" y="236.41" width="4.8" height="4.8"/><rect x="480.1" y="238.63" width="4.8" height="4.8"/><rect x="467.6" y="240.89" width="4.8" height="4.8"/><rect x="458.6" y="243.1" width="4.8" height="4.8"/></g>
</g>
<g stroke="#dada20">
<path clip-path="url(#ctc)" d="M539.6 63.6L539.8 76.7L540 88.5L540.1 99.7L540.2 110.6L540.3 121.7L540.3 133.1L540.2 144.4L540.1 155.5L540.2 166.7L539.6 178.1L538.8 189.1L537.4 200.5L535 212.21L534.1 214.42L533.2 216.63L532.4 218.85L531.5 221.06L530.6 223.27L529.5 225.49L528.3 227.7L527 229.91L524.5 232.13L521 234.34L515 236.55L505.5 238.81L495 241.03L483.5 243.29L473.6 245.5" stroke-width="1.6"/>
<g stroke-width="1.6" fill="#dada20" fill-opacity="0.45"><path d="M539.6 60.43L542.36 65.59L536.84 65.59Z"/><path d="M539.8 73.53L542.56 78.69L537.04 78.69Z"/><path d="M540 85.33L542.76 90.49L537.24 90.49Z"/><path d="M540.1 96.53L542.86 101.69L537.34 101.69Z"/><path d="M540.2 107.43L542.96 112.59L537.44 112.59Z"/><path d="M540.3 118.53L543.06 123.69L537.54 123.69Z"/><path d="M540.3 129.93L543.06 135.09L537.54 135.09Z"/><path d="M540.2 141.23L542.96 146.39L537.44 146.39Z"/><path d="M540.1 152.33L542.86 157.49L537.34 157.49Z"/><path d="M540.2 163.53L542.96 168.69L537.44 168.69Z"/><path d="M539.6 174.93L542.36 180.09L536.84 180.09Z"/><path d="M538.8 185.93L541.56 191.09L536.04 191.09Z"/><path d="M537.4 197.33L540.16 202.49L534.64 202.49Z"/><path d="M535 209.03L537.76 214.2L532.24 214.2Z"/><path d="M534.1 211.25L536.86 216.41L531.34 216.41Z"/><path d="M533.2 213.46L535.96 218.62L530.44 218.62Z"/><path d="M532.4 215.67L535.16 220.83L529.64 220.83Z"/><path d="M531.5 217.89L534.26 223.05L528.74 223.05Z"/><path d="M530.6 220.1L533.36 225.26L527.84 225.26Z"/><path d="M529.5 222.31L532.26 227.47L526.74 227.47Z"/><path d="M528.3 224.53L531.06 229.69L525.54 229.69Z"/><path d="M527 226.74L529.76 231.9L524.24 231.9Z"/><path d="M524.5 228.95L527.26 234.11L521.74 234.11Z"/><path d="M521 231.16L523.76 236.33L518.24 236.33Z"/><path d="M515 233.38L517.76 238.54L512.24 238.54Z"/><path d="M505.5 235.64L508.26 240.8L502.74 240.8Z"/><path d="M495 237.85L497.76 243.01L492.24 243.01Z"/><path d="M483.5 240.11L486.26 245.27L480.74 245.27Z"/><path d="M473.6 242.33L476.36 247.49L470.84 247.49Z"/></g>
</g>
<g stroke="#f95203">
<path clip-path="url(#ctc)" d="M539.6 63.6L539.8 76.7L540 88.5L540.1 99.7L540.2 110.6L540.3 121.7L540.3 133.1L540.2 144.4L540.1 155.5L540 166.7L539.8 178.1L539.4 189.1L538.8 200.5L537.5 212.21L536.8 214.42L536 216.63L535.4 218.85L535 221.06L534.4 223.27L533.6 225.49L532.8 227.7L532 229.91L530 232.13L527 234.34L522 236.55L515 238.81L506 241.03L495 243.29L484.5 245.5" stroke-width="1.6"/>
<g stroke-width="1.6" fill="#f95203" fill-opacity="0.4"><path d="M539.6 59.94L541.82 63.6L539.6 67.26L537.38 63.6Z"/><path d="M539.8 73.04L542.02 76.7L539.8 80.36L537.58 76.7Z"/><path d="M540 84.84L542.22 88.5L540 92.16L537.78 88.5Z"/><path d="M540.1 96.04L542.32 99.7L540.1 103.36L537.88 99.7Z"/><path d="M540.2 106.94L542.42 110.6L540.2 114.26L537.98 110.6Z"/><path d="M540.3 118.04L542.52 121.7L540.3 125.36L538.08 121.7Z"/><path d="M540.3 129.44L542.52 133.1L540.3 136.76L538.08 133.1Z"/><path d="M540.2 140.74L542.42 144.4L540.2 148.06L537.98 144.4Z"/><path d="M540.1 151.84L542.32 155.5L540.1 159.16L537.88 155.5Z"/><path d="M540 163.04L542.22 166.7L540 170.36L537.78 166.7Z"/><path d="M539.8 174.44L542.02 178.1L539.8 181.76L537.58 178.1Z"/><path d="M539.4 185.44L541.62 189.1L539.4 192.76L537.18 189.1Z"/><path d="M538.8 196.84L541.02 200.5L538.8 204.16L536.58 200.5Z"/><path d="M537.5 208.55L539.72 212.21L537.5 215.87L535.28 212.21Z"/><path d="M536.8 210.76L539.02 214.42L536.8 218.08L534.58 214.42Z"/><path d="M536 212.97L538.22 216.63L536 220.29L533.78 216.63Z"/><path d="M535.4 215.19L537.62 218.85L535.4 222.51L533.18 218.85Z"/><path d="M535 217.4L537.22 221.06L535 224.72L532.78 221.06Z"/><path d="M534.4 219.61L536.62 223.27L534.4 226.93L532.18 223.27Z"/><path d="M533.6 221.83L535.82 225.49L533.6 229.15L531.38 225.49Z"/><path d="M532.8 224.04L535.02 227.7L532.8 231.36L530.58 227.7Z"/><path d="M532 226.25L534.22 229.91L532 233.57L529.78 229.91Z"/><path d="M530 228.47L532.22 232.13L530 235.79L527.78 232.13Z"/><path d="M527 230.68L529.22 234.34L527 238L524.78 234.34Z"/><path d="M522 232.89L524.22 236.55L522 240.21L519.78 236.55Z"/><path d="M515 235.15L517.22 238.81L515 242.47L512.78 238.81Z"/><path d="M506 237.37L508.22 241.03L506 244.69L503.78 241.03Z"/><path d="M495 239.63L497.22 243.29L495 246.95L492.78 243.29Z"/><path d="M484.5 241.84L486.72 245.5L484.5 249.16L482.28 245.5Z"/></g>
</g>
<g stroke="#850606">
<path clip-path="url(#ctc)" d="M539.8 63.6L540 76.7L540.2 88.5L540.3 99.7L540.4 110.6L540.5 121.7L540.5 133.1L540.4 144.4L540.3 155.5L540.1 166.7L539.8 178.1L539.2 189.1L538.2 200.5L536.6 212.21L535.6 214.42L534.6 216.63L533.8 218.85L533.2 221.06L532.6 223.27L531.5 225.49L530.2 227.7L528.8 229.91L526.5 232.13L524 234.34L519.5 236.55L513 238.81L505 241.03L495 243.29L483.5 245.5" stroke-width="1.6"/>
<g stroke-width="1.6" fill="#850606" fill-opacity="0.7"><path d="M539.8 66.98L542.74 61.48L536.86 61.48Z"/><path d="M540 80.08L542.94 74.58L537.06 74.58Z"/><path d="M540.2 91.88L543.14 86.38L537.26 86.38Z"/><path d="M540.3 103.08L543.24 97.58L537.36 97.58Z"/><path d="M540.4 113.98L543.34 108.48L537.46 108.48Z"/><path d="M540.5 125.08L543.44 119.58L537.56 119.58Z"/><path d="M540.5 136.48L543.44 130.98L537.56 130.98Z"/><path d="M540.4 147.78L543.34 142.28L537.46 142.28Z"/><path d="M540.3 158.88L543.24 153.38L537.36 153.38Z"/><path d="M540.1 170.08L543.04 164.58L537.16 164.58Z"/><path d="M539.8 181.48L542.74 175.98L536.86 175.98Z"/><path d="M539.2 192.48L542.14 186.98L536.26 186.98Z"/><path d="M538.2 203.88L541.14 198.38L535.26 198.38Z"/><path d="M536.6 215.59L539.54 210.09L533.66 210.09Z"/><path d="M535.6 217.8L538.54 212.3L532.66 212.3Z"/><path d="M534.6 220.02L537.54 214.52L531.66 214.52Z"/><path d="M533.8 222.23L536.74 216.73L530.86 216.73Z"/><path d="M533.2 224.44L536.14 218.94L530.26 218.94Z"/><path d="M532.6 226.65L535.54 221.16L529.66 221.16Z"/><path d="M531.5 228.87L534.44 223.37L528.56 223.37Z"/><path d="M530.2 231.08L533.14 225.58L527.26 225.58Z"/><path d="M528.8 233.29L531.74 227.8L525.86 227.8Z"/><path d="M526.5 235.51L529.44 230.01L523.56 230.01Z"/><path d="M524 237.72L526.94 232.22L521.06 232.22Z"/><path d="M519.5 239.93L522.44 234.43L516.56 234.43Z"/><path d="M513 242.19L515.94 236.7L510.06 236.7Z"/><path d="M505 244.41L507.94 238.91L502.06 238.91Z"/><path d="M495 246.67L497.94 241.17L492.06 241.17Z"/><path d="M483.5 248.88L486.44 243.38L480.56 243.38Z"/></g>
</g>
</g>
<g fill="none" stroke-linejoin="round">
<g stroke="#2e8bff">
<path clip-path="url(#clc)" d="M534.8 238.06L532.2 262.4L531.2 267L530.2 271.6L529.2 276.2L528.2 280.8L527.2 285.4L526.6 290L526 294.6L524.4 299.2L520 303.8L514 308.4L502.8 313L490.5 317.7L476.5 322.3L463.5 327L453.8 331.6" stroke-width="1.6"/>
<g stroke-width="1.6" fill="#2e8bff" fill-opacity="0.18"><circle cx="532.2" cy="262.4" r="2.37"/><circle cx="531.2" cy="267" r="2.37"/><circle cx="530.2" cy="271.6" r="2.37"/><circle cx="529.2" cy="276.2" r="2.37"/><circle cx="528.2" cy="280.8" r="2.37"/><circle cx="527.2" cy="285.4" r="2.37"/><circle cx="526.6" cy="290" r="2.37"/><circle cx="526" cy="294.6" r="2.37"/><circle cx="524.4" cy="299.2" r="2.37"/><circle cx="520" cy="303.8" r="2.37"/><circle cx="514" cy="308.4" r="2.37"/><circle cx="502.8" cy="313" r="2.37"/><circle cx="490.5" cy="317.7" r="2.37"/><circle cx="476.5" cy="322.3" r="2.37"/><circle cx="463.5" cy="327" r="2.37"/><circle cx="453.8" cy="331.6" r="2.37"/></g>
</g>
<g stroke="#2cf57e">
<path clip-path="url(#clc)" d="M536.2 238.06L533.6 262.4L532.7 267L531.8 271.6L530.9 276.2L530 280.8L529.1 285.4L528.2 290L527.3 294.6L525.6 299.2L522 303.8L516.5 308.4L507 313L495 317.7L482.5 322.3L470 327L461 331.6" stroke-width="1.6"/>
<g stroke-width="1.6" fill="#2cf57e" fill-opacity="0.18"><rect x="531.2" y="260" width="4.8" height="4.8"/><rect x="530.3" y="264.6" width="4.8" height="4.8"/><rect x="529.4" y="269.2" width="4.8" height="4.8"/><rect x="528.5" y="273.8" width="4.8" height="4.8"/><rect x="527.6" y="278.4" width="4.8" height="4.8"/><rect x="526.7" y="283" width="4.8" height="4.8"/><rect x="525.8" y="287.6" width="4.8" height="4.8"/><rect x="524.9" y="292.2" width="4.8" height="4.8"/><rect x="523.2" y="296.8" width="4.8" height="4.8"/><rect x="519.6" y="301.4" width="4.8" height="4.8"/><rect x="514.1" y="306" width="4.8" height="4.8"/><rect x="504.6" y="310.6" width="4.8" height="4.8"/><rect x="492.6" y="315.3" width="4.8" height="4.8"/><rect x="480.1" y="319.9" width="4.8" height="4.8"/><rect x="467.6" y="324.6" width="4.8" height="4.8"/><rect x="458.6" y="329.2" width="4.8" height="4.8"/></g>
</g>
<g stroke="#dada20">
<path clip-path="url(#clc)" d="M537.4 238.06L535 262.4L534.1 267L533.2 271.6L532.4 276.2L531.5 280.8L530.6 285.4L529.5 290L528.3 294.6L527 299.2L524.5 303.8L521 308.4L515 313L505.5 317.7L495 322.3L483.5 327L473.6 331.6" stroke-width="1.6"/>
<g stroke-width="1.6" fill="#dada20" fill-opacity="0.45"><path d="M535 259.23L537.76 264.39L532.24 264.39Z"/><path d="M534.1 263.83L536.86 268.99L531.34 268.99Z"/><path d="M533.2 268.43L535.96 273.59L530.44 273.59Z"/><path d="M532.4 273.03L535.16 278.19L529.64 278.19Z"/><path d="M531.5 277.63L534.26 282.79L528.74 282.79Z"/><path d="M530.6 282.23L533.36 287.39L527.84 287.39Z"/><path d="M529.5 286.83L532.26 291.99L526.74 291.99Z"/><path d="M528.3 291.43L531.06 296.59L525.54 296.59Z"/><path d="M527 296.03L529.76 301.19L524.24 301.19Z"/><path d="M524.5 300.63L527.26 305.79L521.74 305.79Z"/><path d="M521 305.23L523.76 310.39L518.24 310.39Z"/><path d="M515 309.83L517.76 314.99L512.24 314.99Z"/><path d="M505.5 314.53L508.26 319.69L502.74 319.69Z"/><path d="M495 319.13L497.76 324.29L492.24 324.29Z"/><path d="M483.5 323.83L486.26 328.99L480.74 328.99Z"/><path d="M473.6 328.43L476.36 333.59L470.84 333.59Z"/></g>
</g>
<g stroke="#f95203">
<path clip-path="url(#clc)" d="M538.8 238.06L537.5 262.4L536.8 267L536 271.6L535.4 276.2L535 280.8L534.4 285.4L533.6 290L532.8 294.6L532 299.2L530 303.8L527 308.4L522 313L515 317.7L506 322.3L495 327L484.5 331.6" stroke-width="1.6"/>
<g stroke-width="1.6" fill="#f95203" fill-opacity="0.4"><path d="M537.5 258.74L539.72 262.4L537.5 266.06L535.28 262.4Z"/><path d="M536.8 263.34L539.02 267L536.8 270.66L534.58 267Z"/><path d="M536 267.94L538.22 271.6L536 275.26L533.78 271.6Z"/><path d="M535.4 272.54L537.62 276.2L535.4 279.86L533.18 276.2Z"/><path d="M535 277.14L537.22 280.8L535 284.46L532.78 280.8Z"/><path d="M534.4 281.74L536.62 285.4L534.4 289.06L532.18 285.4Z"/><path d="M533.6 286.34L535.82 290L533.6 293.66L531.38 290Z"/><path d="M532.8 290.94L535.02 294.6L532.8 298.26L530.58 294.6Z"/><path d="M532 295.54L534.22 299.2L532 302.86L529.78 299.2Z"/><path d="M530 300.14L532.22 303.8L530 307.46L527.78 303.8Z"/><path d="M527 304.74L529.22 308.4L527 312.06L524.78 308.4Z"/><path d="M522 309.34L524.22 313L522 316.66L519.78 313Z"/><path d="M515 314.04L517.22 317.7L515 321.36L512.78 317.7Z"/><path d="M506 318.64L508.22 322.3L506 325.96L503.78 322.3Z"/><path d="M495 323.34L497.22 327L495 330.66L492.78 327Z"/><path d="M484.5 327.94L486.72 331.6L484.5 335.26L482.28 331.6Z"/></g>
</g>
<g stroke="#850606">
<path clip-path="url(#clc)" d="M538.2 238.06L536.6 262.4L535.6 267L534.6 271.6L533.8 276.2L533.2 280.8L532.6 285.4L531.5 290L530.2 294.6L528.8 299.2L526.5 303.8L524 308.4L519.5 313L513 317.7L505 322.3L495 327L483.5 331.6" stroke-width="1.6"/>
<g stroke-width="1.6" fill="#850606" fill-opacity="0.7"><path d="M536.6 265.78L539.54 260.28L533.66 260.28Z"/><path d="M535.6 270.38L538.54 264.88L532.66 264.88Z"/><path d="M534.6 274.98L537.54 269.48L531.66 269.48Z"/><path d="M533.8 279.58L536.74 274.08L530.86 274.08Z"/><path d="M533.2 284.18L536.14 278.68L530.26 278.68Z"/><path d="M532.6 288.78L535.54 283.28L529.66 283.28Z"/><path d="M531.5 293.38L534.44 287.88L528.56 287.88Z"/><path d="M530.2 297.98L533.14 292.48L527.26 292.48Z"/><path d="M528.8 302.58L531.74 297.08L525.86 297.08Z"/><path d="M526.5 307.18L529.44 301.68L523.56 301.68Z"/><path d="M524 311.78L526.94 306.28L521.06 306.28Z"/><path d="M519.5 316.38L522.44 310.88L516.56 310.88Z"/><path d="M513 321.08L515.94 315.58L510.06 315.58Z"/><path d="M505 325.68L507.94 320.18L502.06 320.18Z"/><path d="M495 330.38L497.94 324.88L492.06 324.88Z"/><path d="M483.5 334.98L486.44 329.48L480.56 329.48Z"/></g>
</g>
</g>
<path d="M544.5 65V150" stroke="#2e8bff" stroke-width="0.9" stroke-opacity="0.75" fill="none"/>
<path d="M68.4 249.3v-1.8M68.4 63.6v1.8M68.4 339.5v-1.8M68.4 262.3v1.8M114.2 249.3v-1.8M114.2 63.6v1.8M114.2 339.5v-1.8M114.2 262.3v1.8M160 249.3v-1.8M160 63.6v1.8M160 339.5v-1.8M160 262.3v1.8M45.7 212.16h1.8M171.4 212.16h-1.8M45.7 175.02h1.8M171.4 175.02h-1.8M45.7 137.88h1.8M171.4 137.88h-1.8M45.7 100.74h1.8M171.4 100.74h-1.8" stroke="#3a3a3a" stroke-width="0.8" fill="none"/>
<rect x="45.7" y="63.6" width="125.7" height="185.7" fill="none" stroke="#3a3a3a" stroke-width="0.9"/>
<rect x="45.7" y="262.3" width="125.7" height="77.2" fill="none" stroke="#3a3a3a" stroke-width="0.9"/>
<g class="tk" text-anchor="end">
<text x="42.5" y="254.1">0</text>
<text x="42.5" y="216.96">0.1</text>
<text x="42.5" y="179.82">0.2</text>
<text x="42.5" y="142.68">0.3</text>
<text x="42.5" y="105.54">0.4</text>
<text x="42.5" y="68.4">0.5</text>
<text x="42.7" y="267.7">0.1</text>
<text x="42.9" y="344.8">0</text>
</g>
<g class="tk" text-anchor="middle">
<text x="68.4" y="355.5">-6</text>
<text x="114.2" y="355.5">-4</text>
<text x="160" y="355.5">-2</text>
</g>
<g transform="translate(16.7 157.25) rotate(-90)">
<text class="mi" font-size="14.3" transform="translate(-25.9 0) scale(1.359 1)">z/H</text>
<text class="mr" font-size="16.9" transform="translate(10.3 1.4) scale(0.477 1)">[</text><text class="mr" font-size="16.9" transform="translate(23.8 1.4) scale(0.477 1)">]</text><text class="mr" font-size="14" transform="translate(14.3 0) scale(1.037 1)">−</text>
</g>
<g transform="translate(16.7 301.7) rotate(-90)">
<text class="mi" font-size="14.3" transform="translate(-25.9 0) scale(1.359 1)">z/H</text>
<text class="mr" font-size="16.9" transform="translate(10.3 1.4) scale(0.477 1)">[</text><text class="mr" font-size="16.9" transform="translate(23.8 1.4) scale(0.477 1)">]</text><text class="mr" font-size="14" transform="translate(14.3 0) scale(1.037 1)">−</text>
</g>
<path d="M257.6 249.3v-1.8M257.6 63.6v1.8M257.6 339.5v-1.8M257.6 262.3v1.8M307.6 249.3v-1.8M307.6 63.6v1.8M307.6 339.5v-1.8M307.6 262.3v1.8M232.5 212.16h1.8M358.4 212.16h-1.8M232.5 175.02h1.8M358.4 175.02h-1.8M232.5 137.88h1.8M358.4 137.88h-1.8M232.5 100.74h1.8M358.4 100.74h-1.8" stroke="#3a3a3a" stroke-width="0.8" fill="none"/>
<rect x="232.5" y="63.6" width="125.9" height="185.7" fill="none" stroke="#3a3a3a" stroke-width="0.9"/>
<rect x="232.5" y="262.3" width="125.9" height="77.2" fill="none" stroke="#3a3a3a" stroke-width="0.9"/>
<g class="tk" text-anchor="end">
<text x="229.3" y="254.1">0</text>
<text x="229.3" y="216.96">0.1</text>
<text x="229.3" y="179.82">0.2</text>
<text x="229.3" y="142.68">0.3</text>
<text x="229.3" y="105.54">0.4</text>
<text x="229.3" y="68.4">0.5</text>
<text x="229.5" y="267.7">0.1</text>
<text x="229.7" y="344.8">0</text>
</g>
<g class="tk" text-anchor="middle">
<text x="257.6" y="355.5">-2</text>
<text x="307.6" y="355.5">0</text>
<text x="358.6" y="355.5">2</text>
</g>
<g transform="translate(203.5 157.25) rotate(-90)">
<text class="mi" font-size="14.3" transform="translate(-25.9 0) scale(1.359 1)">z/H</text>
<text class="mr" font-size="16.9" transform="translate(10.3 1.4) scale(0.477 1)">[</text><text class="mr" font-size="16.9" transform="translate(23.8 1.4) scale(0.477 1)">]</text><text class="mr" font-size="14" transform="translate(14.3 0) scale(1.037 1)">−</text>
</g>
<g transform="translate(203.5 301.7) rotate(-90)">
<text class="mi" font-size="14.3" transform="translate(-25.9 0) scale(1.359 1)">z/H</text>
<text class="mr" font-size="16.9" transform="translate(10.3 1.4) scale(0.477 1)">[</text><text class="mr" font-size="16.9" transform="translate(23.8 1.4) scale(0.477 1)">]</text><text class="mr" font-size="14" transform="translate(14.3 0) scale(1.037 1)">−</text>
</g>
<path d="M479.6 249.3v-1.8M479.6 63.6v1.8M479.6 339.5v-1.8M479.6 262.3v1.8M539.5 249.3v-1.8M539.5 63.6v1.8M539.5 339.5v-1.8M539.5 262.3v1.8M419.6 212.16h1.8M545.5 212.16h-1.8M419.6 175.02h1.8M545.5 175.02h-1.8M419.6 137.88h1.8M545.5 137.88h-1.8M419.6 100.74h1.8M545.5 100.74h-1.8" stroke="#3a3a3a" stroke-width="0.8" fill="none"/>
<rect x="419.6" y="63.6" width="125.9" height="185.7" fill="none" stroke="#3a3a3a" stroke-width="0.9"/>
<rect x="419.6" y="262.3" width="125.9" height="77.2" fill="none" stroke="#3a3a3a" stroke-width="0.9"/>
<g class="tk" text-anchor="end">
<text x="416.4" y="254.1">0</text>
<text x="416.4" y="216.96">0.1</text>
<text x="416.4" y="179.82">0.2</text>
<text x="416.4" y="142.68">0.3</text>
<text x="416.4" y="105.54">0.4</text>
<text x="416.4" y="68.4">0.5</text>
<text x="416.6" y="267.7">0.1</text>
<text x="416.8" y="344.8">0</text>
</g>
<g class="tk" text-anchor="middle">
<text x="419.4" y="355.5">0.9</text>
<text x="479.6" y="355.5">0.95</text>
<text x="540.3" y="355.5">1</text>
</g>
<g transform="translate(390.6 157.25) rotate(-90)">
<text class="mi" font-size="14.3" transform="translate(-25.9 0) scale(1.359 1)">z/H</text>
<text class="mr" font-size="16.9" transform="translate(10.3 1.4) scale(0.477 1)">[</text><text class="mr" font-size="16.9" transform="translate(23.8 1.4) scale(0.477 1)">]</text><text class="mr" font-size="14" transform="translate(14.3 0) scale(1.037 1)">−</text>
</g>
<g transform="translate(390.6 301.7) rotate(-90)">
<text class="mi" font-size="14.3" transform="translate(-25.9 0) scale(1.359 1)">z/H</text>
<text class="mr" font-size="16.9" transform="translate(10.3 1.4) scale(0.477 1)">[</text><text class="mr" font-size="16.9" transform="translate(23.8 1.4) scale(0.477 1)">]</text><text class="mr" font-size="14" transform="translate(14.3 0) scale(1.037 1)">−</text>
</g>
<text class="mi" font-size="14" transform="translate(87.6 371) scale(1.316 1)">inc</text>
<text class="mr" font-size="16.9" transform="translate(116.8 372.4) scale(0.477 1)">[</text><text class="mr" font-size="16.9" transform="translate(125.9 372.4) scale(0.477 1)">]</text><text class="mr" font-size="13" transform="translate(120.4 368) scale(0.885 1)">°</text>
<text class="mi" font-size="14" transform="translate(281 371) scale(1.541 1)">γ</text>
<text class="mr" font-size="16.9" transform="translate(297.6 372.4) scale(0.477 1)">[</text><text class="mr" font-size="16.9" transform="translate(306.7 372.4) scale(0.477 1)">]</text><text class="mr" font-size="13" transform="translate(301.2 368) scale(0.885 1)">°</text>
<text class="mi" font-size="14" transform="translate(439 371) scale(1.123 1)">P</text>
<text class="mr" font-size="9.5" transform="translate(447.8 373.6) scale(1.053 1)">02</text>
<text class="mr" font-size="14" transform="translate(458.6 371) scale(1.671 1)">/</text>
<text class="mi" font-size="14" transform="translate(466 371) scale(1.123 1)">P</text>
<text class="mr" font-size="9.5" transform="translate(474.8 373.6) scale(1.053 1)">01,</text>
<text class="mi" font-size="9.5" transform="translate(487.6 373.6) scale(1.484 1)">fs</text>
<text class="mr" font-size="16.9" transform="translate(509.1 372.4) scale(0.477 1)">[</text><text class="mr" font-size="16.9" transform="translate(524.1 372.4) scale(0.477 1)">]</text><text class="mr" font-size="14" transform="translate(513.75 371) scale(1.062 1)">−</text>
<text class="cap" text-anchor="middle" x="95.6" y="398">(a)</text>
<text class="cap" text-anchor="middle" x="283" y="398">(b)</text>
<text class="cap" text-anchor="middle" x="470.2" y="398">(c)</text>
<rect x="5.3" y="4.4" width="401.1" height="37.1" fill="#fff" stroke="#333" stroke-width="0.9"/>
<g stroke="#2e8bff" fill="none"><path d="M10.2 14.8h48.3" stroke-width="1.6"/><g stroke-width="1.6" fill="#2e8bff" fill-opacity="0.18"><circle cx="34.9" cy="14.8" r="2.37"/></g></g>
<text class="mi lg" font-size="14" transform="translate(63 19.2) scale(1.146 1)">y/g</text>
<text class="mr lg" font-size="14" transform="translate(87.2 19.2) scale(1.125 1)">=</text>
<text class="mr lg" font-size="14" transform="translate(101.7 19.2) scale(1.049 1)">−</text>
<text class="mr lg" font-size="14.6" transform="translate(111.6 19.2) scale(0.877 1)">1.00</text>
<g stroke="#2cf57e" fill="none"><path d="M10.2 31.4h48.3" stroke-width="1.6"/><g stroke-width="1.6" fill="#2cf57e" fill-opacity="0.18"><rect x="32.5" y="29" width="4.8" height="4.8"/></g></g>
<text class="mi lg" font-size="14" transform="translate(63 35.8) scale(1.146 1)">y/g</text>
<text class="mr lg" font-size="14" transform="translate(87.2 35.8) scale(1.125 1)">=</text>
<text class="mr lg" font-size="14" transform="translate(101.7 35.8) scale(1.049 1)">−</text>
<text class="mr lg" font-size="14.6" transform="translate(111.6 35.8) scale(0.877 1)">0.50</text>
<g stroke="#dada20" fill="none"><path d="M143.8 14.8h48.3" stroke-width="1.6"/><g stroke-width="1.6" fill="#dada20" fill-opacity="0.45"><path d="M168.5 11.63L171.26 16.79L165.74 16.79Z"/></g></g>
<text class="mi lg" font-size="14" transform="translate(196.6 19.2) scale(1.146 1)">y/g</text>
<text class="mr lg" font-size="14" transform="translate(220.8 19.2) scale(1.125 1)">=</text>
<text class="mr lg" font-size="14.6" transform="translate(235.2 19.2) scale(0.877 1)">0.00</text>
<g stroke="#f95203" fill="none"><path d="M143.8 31.4h48.3" stroke-width="1.6"/><g stroke-width="1.6" fill="#f95203" fill-opacity="0.4"><path d="M168.5 27.74L170.72 31.4L168.5 35.06L166.28 31.4Z"/></g></g>
<text class="mi lg" font-size="14" transform="translate(196.6 35.8) scale(1.146 1)">y/g</text>
<text class="mr lg" font-size="14" transform="translate(220.8 35.8) scale(1.125 1)">=</text>
<text class="mr lg" font-size="16.6" transform="translate(235.2 36.7) scale(0.896 1)">+</text>
<text class="mr lg" font-size="14.6" transform="translate(245.2 35.8) scale(0.877 1)">0.50</text>
<g stroke="#850606" fill="none"><path d="M278.2 14.8h48.3" stroke-width="1.6"/><g stroke-width="1.6" fill="#850606" fill-opacity="0.7"><path d="M302.9 18.18L305.84 12.68L299.96 12.68Z"/></g></g>
<text class="mi lg" font-size="14" transform="translate(331 19.2) scale(1.146 1)">y/g</text>
<text class="mr lg" font-size="14" transform="translate(355.2 19.2) scale(1.125 1)">=</text>
<text class="mr lg" font-size="16.6" transform="translate(369.6 20.1) scale(0.896 1)">+</text>
<text class="mr lg" font-size="14.6" transform="translate(379.6 19.2) scale(0.877 1)">1.00</text>
</svg></body></html>
